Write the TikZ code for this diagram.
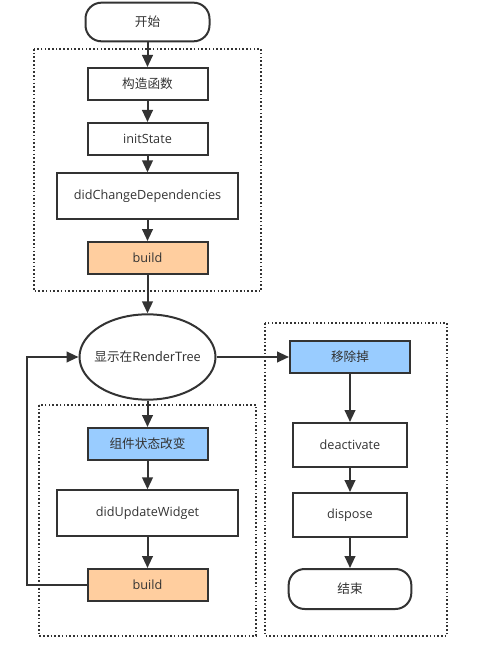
\documentclass[tikz,border=0pt]{standalone}
\usepackage{fontspec}
\setmainfont{Open Sans}
\newfontfamily\cjk{Noto Sans CJK SC}
\usetikzlibrary{arrows.meta,positioning,shapes.geometric}
\definecolor{linea}{HTML}{333333}
\definecolor{naranja}{HTML}{FFCE9F}
\definecolor{azul}{HTML}{99CCFF}
\tikzset{
  paso/.style={draw=linea, line width=1.5pt, text=linea, minimum width=90pt, minimum height=24pt, inner sep=2pt, font=\fontsize{9.5}{11}\selectfont},
  inicio/.style={paso, rounded corners=12pt, minimum width=93pt, minimum height=29pt},
  flecha/.style={draw=linea, line width=1.5pt, -{Triangle[length=9pt,width=8pt]}},
  grupo/.style={draw=linea, line width=1.1pt, dash pattern=on 1.2pt off 1.6pt}
}
\begin{document}
\begin{tikzpicture}[x=0.75pt,y=-0.75pt]
  \useasboundingbox (0,0) rectangle (485,652);

  % Grupos punteados
  \draw[grupo] (34,49) rectangle (261,291);
  \draw[grupo] (39,405) rectangle (256,636);
  \draw[grupo] (265,323) rectangle (447,636);

  % Creacion
  \node[inicio] (inicio) at (147.5,22) {\cjk 开始};
  \node[paso] (constructor) at (147.5,84) {\cjk 构造函数};
  \node[paso] (initstate) at (147.5,139) {initState};
  \node[paso, minimum width=136pt, minimum height=34pt] (dcd) at (147.5,196) {didChangeDependencies};
  \node[paso, fill=naranja] (build) at (147.5,258) {build};

  % Nodo central
  \node[draw=linea, line width=1.5pt, ellipse, text=linea, minimum width=102pt, minimum height=64pt, inner xsep=-8pt, inner ysep=0pt, font=\fontsize{9.5}{11}\selectfont] (mostrar) at (147.5,357) {\cjk 显示在RenderTree};

  % Actualizacion
  \node[paso, fill=azul] (cambio) at (147.5,444) {\cjk 组件状态改变};
  \node[paso, minimum width=136pt, minimum height=34pt] (update) at (147.5,513) {didUpdateWidget};
  \node[paso, fill=naranja] (rebuild) at (147.5,585) {build};

  % Eliminacion
  \node[paso, fill=azul] (remover) at (350,357) {\cjk 移除掉};
  \node[paso, minimum width=86pt, minimum height=33pt] (deactivate) at (350,445) {deactivate};
  \node[paso, minimum width=86pt, minimum height=33pt] (dispose) at (350,515) {dispose};
  \node[inicio, minimum width=92pt, minimum height=30pt] (fin) at (350,589) {\cjk 结束};

  % Flechas
  \draw[flecha] (inicio) -- (constructor);
  \draw[flecha] (constructor) -- (initstate);
  \draw[flecha] (initstate) -- (dcd);
  \draw[flecha] (dcd) -- (build);
  \draw[flecha] (build) -- (mostrar);
  \draw[flecha] (mostrar) -- (cambio);
  \draw[flecha] (cambio) -- (update);
  \draw[flecha] (update) -- (rebuild);
  \draw[flecha] (mostrar) -- (remover);
  \draw[flecha] (remover) -- (deactivate);
  \draw[flecha] (deactivate) -- (dispose);
  \draw[flecha] (dispose) -- (fin);

  % Ciclo de reconstruccion
  \coordinate (vuelta) at (27,585);
  \draw[flecha] (rebuild.west) -- (vuelta) |- (mostrar.west);
\end{tikzpicture}
\end{document}
